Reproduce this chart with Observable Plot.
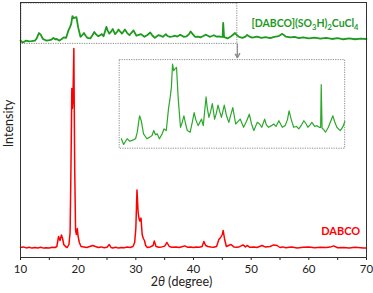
<!DOCTYPE html>
<html><head><meta charset="utf-8">
<script src="https://cdn.jsdelivr.net/npm/d3@7"></script>
<script src="https://cdn.jsdelivr.net/npm/@observablehq/plot@0.6"></script>
<style>body{margin:0;background:#fff}svg{display:block}</style>
</head><body><div id="chart"></div>
<script>
// DABCO (red) pattern: 2θ and normalized intensity
const dabcoAngle = [10,10.5,11,11.5,12,12.5,13,13.5,14,14.5,15,15.5,16,16.3,16.6,16.85,17.1,17.3,17.5,17.8,18.1,18.4,18.6,18.75,18.9,19.0,19.1,19.25,19.4,19.55,19.7,19.85,20.0,20.2,20.5,21,21.5,22,22.5,23,23.5,24,24.5,25,25.4,25.7,26,26.5,27,27.5,28,28.5,29,29.5,29.8,30.0,30.2,30.4,30.55,30.7,30.9,31.1,31.3,31.5,31.7,32,32.5,33,33.2,33.5,34,34.5,35,35.4,35.8,36.3,37,37.5,38,38.5,39,39.5,40,40.5,41,41.5,41.8,42.1,42.5,43,43.5,44,44.4,44.7,45.0,45.15,45.4,45.7,46.1,46.5,47,47.5,48,48.6,49,49.3,49.8,50.5,51,51.9,52.5,53.3,53.9,54.5,55,55.5,56,57,58,59,60,61,62,63,63.7,64.3,65,66,67,68,69,69.5,70];
const dabcoIntensity = [0.5,0.8,0.3,0.6,0.2,0.5,0.3,0.6,0.2,0.4,0.3,0.6,0.5,1,6,4,6.8,5,2,1,0.5,2,8,40,80,70,75,100,40,9,7,10,6,3,1,0.8,0.5,1,1.5,1,0.5,0.8,0.4,0.6,2,0.5,0.3,0.6,0.2,0.5,0.4,0.7,0.5,1,3,10,29.3,18,15,13.7,15.2,7,5,4,1.5,0.5,0.8,1.5,3.8,1,0.6,0.8,1.2,3,1,0.6,0.8,0.5,0.9,1.3,0.6,0.7,0.5,0.7,0.6,1,3.5,1.5,1,0.7,0.6,1,4.5,5.5,7,9,4.5,1,1.5,2,0.8,0.6,0.9,1.8,0.8,1.5,0.6,0.8,0.5,1.5,0.7,1,1.8,1.5,0.5,0.8,0.4,0.7,0.3,0.6,0.7,0.4,0.6,0.5,0.7,1.3,0.4,0.5,0.3,0.6,0.4,0.3,0.2];

// [DABCO](SO3H)2CuCl4 (green) pattern: 2θ and normalized intensity
const complexAngle = [10.0,10.4,11.0,11.5,11.9,12.5,12.8,13.2,13.5,13.9,14.5,15.0,15.4,15.7,16.0,16.3,16.7,17.1,17.5,17.9,18.3,18.6,18.8,19.0,19.2,19.4,19.7,20.0,20.4,20.7,21.0,21.3,21.6,22.1,22.5,22.8,23.1,23.5,23.8,24.1,24.4,24.9,25.1,25.4,25.7,26.0,26.4,26.7,27.0,27.3,27.6,27.9,28.1,28.5,28.9,29.2,29.6,30.1,30.5,30.9,31.2,31.5,32.0,32.5,32.9,33.3,33.6,33.9,34.3,34.7,35.2,35.5,35.9,36.4,36.8,37.2,37.7,38.3,38.8,39.2,39.5,39.9,40.3,40.8,41.2,41.7,42.1,42.5,42.8,43.2,43.5,44.0,44.4,44.8,45.05,45.15,45.3,45.6,45.9,46.4,46.8,47.2,47.5,47.9,48.5,49.0,49.3,49.7,50.2,51,51.8,52.5,53.3,54,54.8,55.4,56,56.8,57.5,58.3,59,60,61,62,63,64,65,66,67,68,69,70];
const complexIntensity = [7,0,7,4,5,7,15,35,29,13,7,9,11,17,12,13,7,12,19,17,44,58,70,98,90,92,94,56,21,27,35,25,17,15,28,39,30,23,27,31,23,58,45,33,40,50,31,38,48,40,33,42,48,35,27,35,45,25,28,31,26,21,28,37,25,17,22,27,25,21,31,24,21,23,25,22,29,21,23,30,41,30,21,22,19,24,29,25,21,24,27,22,23,21,21,73,20,18,15,21,28,35,28,21,17,22,28,22,18,22,17,20,16,21,24,32,22,19,21,16,19,15,18,14,17,13,16,12,15,12,14,13];

const xTickValues = [10,15,20,25,30,35,40,45,50,55,60,65,70];

// annotation layout (data units)
const zoomRange = [10, 47.6];
const insetBox = {x1: 27.2, x2: 66.3, y1: 49.9, y2: 94.2};
const topOffset = 103, topScale = 0.135;
const insetOffset = 52, insetScale = 0.41, insetShift = 17.63, insetStretch = 0.986, insetMaxAngle = 49.3;
const yLabelPos = 62.5;

const dabco = dabcoAngle.map((a, i) => ({a, v: dabcoIntensity[i]}));
const complex = complexAngle.map((a, i) => ({a, v: complexIntensity[i]}));
const green = "#1e9a1e", red = "#ff0000", dot = "#8a8a8a";

const chart = Plot.plot({
  width: 373, height: 293,
  marginLeft: 20, marginRight: 7, marginTop: 2, marginBottom: 36,
  style: {fontFamily: "Lato, 'Open Sans', sans-serif", fontSize: "11px", color: "#222"},
  x: {domain: [10, 70]},
  y: {domain: [-4.5, 123], axis: null},
  marks: [
    Plot.axisX({ticks: xTickValues, tickFormat: d => d % 10 === 0 ? d : "", tickSize: 3, tickPadding: 4, label: null, fontSize: 11.5}),
    // zoom box on top pattern
    Plot.rect([0], {x1: zoomRange[0] + 0.15, x2: zoomRange[1], y1: topOffset - 0.7, y2: 122.5, stroke: dot, strokeDasharray: "1.2,1.2", fill: "none"}),
    Plot.arrow([0], {x1: zoomRange[1], x2: zoomRange[1], y1: topOffset - 0.7, y2: insetBox.y2 + 1.2, stroke: dot, strokeDasharray: "1.2,1.2", headLength: 5, bend: 0}),
    Plot.rect([0], {x1: insetBox.x1, x2: insetBox.x2, y1: insetBox.y1, y2: insetBox.y2, stroke: dot, strokeDasharray: "1.2,1.2", fill: "none"}),
    Plot.line(dabco, {x: "a", y: "v", stroke: red, strokeWidth: 1.5}),
    Plot.line(complex, {x: "a", y: d => topOffset + d.v * topScale, stroke: green, strokeWidth: 1.8}),
    Plot.line(complex.filter(d => d.a <= insetMaxAngle), {x: d => insetShift + insetStretch * d.a, y: d => insetOffset + d.v * insetScale, stroke: "#2aa82a", strokeWidth: 1.2}),
    Plot.text([0], {x: 68.9, y: 8.6, text: () => "DABCO", textAnchor: "end", fill: red, fontWeight: "bold", fontSize: 11}),
    Plot.text([0], {x: 68.6, y: 112.3, text: () => "LABEL", textAnchor: "end", fill: green, fontWeight: "bold", fontSize: 10.5, className: "glabel"}),
    Plot.text([0], {frameAnchor: "left", y: () => yLabelPos, text: () => "Intensity", rotate: -90, textAnchor: "middle", dx: -12, fontSize: 12.5}),
    Plot.text([0], {frameAnchor: "bottom", text: () => "TITLE", dx: -12, dy: 28, fontSize: 12.5, className: "xtitle"}),
    Plot.frame({stroke: "#333", strokeWidth: 1})
  ]
});
document.getElementById("chart").append(chart);

const gl = d3.select(chart).select(".glabel text");
gl.text(null);
[["[DABCO](SO", 0], ["3", 3], ["H)", -3], ["2", 3], ["CuCl", -3], ["4", 3]].forEach(([t, dy], i) => {
  const ts = gl.append("tspan").attr("dy", dy).text(t);
  if (i % 2 === 1) ts.attr("font-size", 7.5);
});
const xt = d3.select(chart).select(".xtitle text");
xt.text(null);
xt.append("tspan").text("2");
xt.append("tspan").attr("font-style", "italic").text("θ");
xt.append("tspan").text(" (degree)");
</script></body></html>
